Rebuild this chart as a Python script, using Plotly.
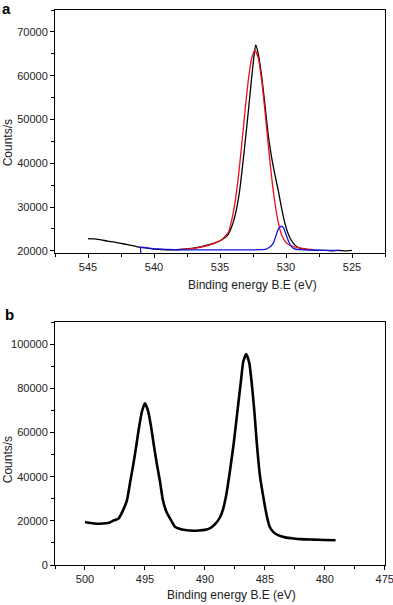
import plotly.graph_objects as go

# Panel a: O 1s
a_black_e = [545.0, 544.5, 544.0, 543.5, 543.0, 542.5, 542.0, 541.5, 541.0, 540.5, 540.0, 539.5, 539.0, 538.5,
             538.0, 537.5, 537.0, 536.5, 536.0, 535.5, 535.0, 534.5, 534.25, 534.0, 533.75, 533.5, 533.25, 533.0,
             532.75, 532.5, 532.3, 532.1, 531.85, 531.6, 531.35, 531.1, 530.85, 530.6, 530.35, 530.1, 529.85,
             529.6, 529.35, 529.1, 528.85, 528.5, 528.0, 527.5, 527.0, 526.5, 526.0, 525.5, 525.0]
a_black_c = [22800, 22700, 22500, 22200, 22000, 21700, 21400, 21100, 20800, 20600, 20400, 20300, 20200, 20200,
             20300, 20450, 20600, 20900, 21300, 21700, 22300, 23300, 24500, 26500, 29500, 34000, 40500, 47500,
             55000, 62500, 67000, 65000, 60000, 53500, 46500, 41500, 37500, 34000, 30000, 26500, 24000,
             22400, 21400, 20800, 20500, 20300, 20200, 20100, 20100, 20000, 20100, 20000, 20100]

a_red_e = [538.0, 537.85, 537.35, 536.85, 536.35, 535.85, 535.35, 534.85, 534.35, 534.1, 533.85, 533.6, 533.35,
           533.1, 532.85, 532.6, 532.35, 532.1, 531.85, 531.6, 531.35, 531.1, 530.85, 530.6, 530.35, 530.1,
           529.85, 529.35, 528.85, 528.35, 528.0]
a_red_c = [20300, 20350, 20450, 20600, 20900, 21300, 21800, 22600, 24300, 27200, 31300, 37100, 44400,
           52100, 59100, 64000, 65800, 64000, 59100, 52100, 44400, 37100, 31150, 26740, 23800, 22300,
           21500, 20900, 20600, 20400, 20300]

a_blue_e = [541.0, 541.0, 540.5, 540.0, 539.5, 539.0, 538.0, 537.0, 536.0, 535.0, 534.0, 533.0, 532.0, 531.5,
            531.25, 531.0, 530.85, 530.7, 530.55, 530.35, 530.2, 530.05, 529.9, 529.75, 529.6, 529.4, 529.0,
            528.5, 528.0, 527.0, 526.0]
a_blue_c = [19500, 20800, 20650, 20500, 20400, 20300, 20200, 20200, 20200, 20200, 20200, 20200, 20250, 20400,
            20800, 21600, 22600, 24000, 25100, 25600, 25300, 24200, 22900, 21800, 21000, 20500, 20250,
            20200, 20150, 20100, 20100]

# Panel b: I 3d
b_e = [500.0, 499.5, 499.0, 498.5, 498.0, 497.6, 497.2, 496.85, 496.5, 496.25, 495.97, 495.75, 495.5, 495.25,
       495.0, 494.75, 494.5, 494.25, 494.0, 493.75, 493.5, 493.2, 492.9, 492.5, 492.0, 491.5, 491.0, 490.5,
       490.0, 489.6, 489.25, 489.0, 488.75, 488.5, 488.2, 487.9, 487.6, 487.3, 487.0, 486.8, 486.55, 486.3,
       486.05, 485.85, 485.69, 485.4, 485.08, 484.85, 484.6, 484.3, 483.9, 483.3, 482.6, 482.0, 481.0,
       480.0, 479.1]
b_c = [19500, 19000, 18700, 18800, 19100, 20200, 21000, 24500, 29300, 37000, 45500, 53000, 62000, 69500,
       73200, 70000, 63000, 54000, 45500, 38000, 29300, 24000, 21000, 17300, 16200, 15700, 15500, 15600,
       15900, 16550, 18000, 19500, 21500, 25000, 32300, 43000, 54900, 69000, 83000, 92000, 95500, 91500,
       80000, 68000, 56400, 40000, 29300, 22500, 17300, 15000, 13500, 12500, 12000, 11700, 11500,
       11300, 11200]

a_xticks = [545, 540, 535, 530, 525]
a_yticks = [20000, 30000, 40000, 50000, 60000, 70000]
b_xticks = [500, 495, 490, 485, 480, 475]
b_yticks = [0, 20000, 40000, 60000, 80000, 100000]

FONT = "Liberation Sans, Arial, sans-serif"

fig = go.Figure()
fig.add_trace(go.Scatter(x=a_black_e, y=a_black_c, mode="lines",
                         line=dict(color="black", width=1.3, shape="spline", smoothing=0.5),
                         xaxis="x", yaxis="y", showlegend=False))
fig.add_trace(go.Scatter(x=a_red_e, y=a_red_c, mode="lines",
                         line=dict(color="#e8101a", width=1.3, shape="spline", smoothing=0.5),
                         xaxis="x", yaxis="y", showlegend=False))
fig.add_trace(go.Scatter(x=a_blue_e, y=a_blue_c, mode="lines",
                         line=dict(color="#1414e0", width=1.3, shape="spline", smoothing=0.5),
                         xaxis="x", yaxis="y", showlegend=False))
fig.add_trace(go.Scatter(x=b_e, y=b_c, mode="lines",
                         line=dict(color="black", width=2.6, shape="spline", smoothing=0.5),
                         xaxis="x2", yaxis="y2", showlegend=False))

axis_common = dict(showline=True, linecolor="black", linewidth=1, mirror=True, ticks="outside",
                   ticklen=4, tickwidth=1, tickcolor="black", showgrid=False, zeroline=False,
                   tickformat="d", ticklabeloverflow="allow", automargin=False,
                   tickfont=dict(family=FONT, size=11, color="#222"))

fig.update_layout(
    width=393, height=605,
    margin=dict(l=55, r=8, t=10, b=40, autoexpand=False),
    plot_bgcolor="white", paper_bgcolor="white",
    xaxis=dict(domain=[0, 1], anchor="y", range=[547.5, 522.5], tickvals=a_xticks,
               minor=dict(dtick=2.5, ticks="outside", ticklen=3, tickcolor="black"), **axis_common),
    yaxis=dict(domain=[0.5622, 1], anchor="x", range=[19500, 75000], tickvals=a_yticks,
               minor=dict(dtick=5000, ticks="outside", ticklen=3, tickcolor="black"), **axis_common),
    xaxis2=dict(domain=[0, 1], anchor="y2", range=[502.5, 474.98], tickvals=b_xticks,
                minor=dict(dtick=2.5, ticks="outside", ticklen=3, tickcolor="black"), **axis_common),
    yaxis2=dict(domain=[0, 0.4378], anchor="x2", range=[0, 110000], tickvals=b_yticks,
                minor=dict(dtick=10000, ticks="outside", ticklen=3, tickcolor="black"), **axis_common),
)

ann_font = dict(family=FONT, size=12, color="#222")
common = dict(xref="paper", yref="paper", showarrow=False, xanchor="center", yanchor="middle")
fig.add_annotation(text="<b>a</b>", x=-0.148, y=1.003, font=dict(family=FONT, size=15, color="black"), **common)
fig.add_annotation(text="<b>b</b>", x=-0.139, y=0.4505, font=dict(family=FONT, size=15, color="black"), **common)
fig.add_annotation(text="Binding energy B.E (eV)", x=0.597, y=0.5045, font=ann_font, **common)
fig.add_annotation(text="Binding energy B.E (eV)", x=0.536, y=-0.054, font=ann_font, **common)
fig.add_annotation(text="Counts/s", x=-0.142, y=0.760, textangle=-90, font=ann_font, **common)
fig.add_annotation(text="Counts/s", x=-0.142, y=0.189, textangle=-90, font=ann_font, **common)

fig.write_html("out.html", config={"displayModeBar": False},
               post_script="document.body.style.margin='0px';")
